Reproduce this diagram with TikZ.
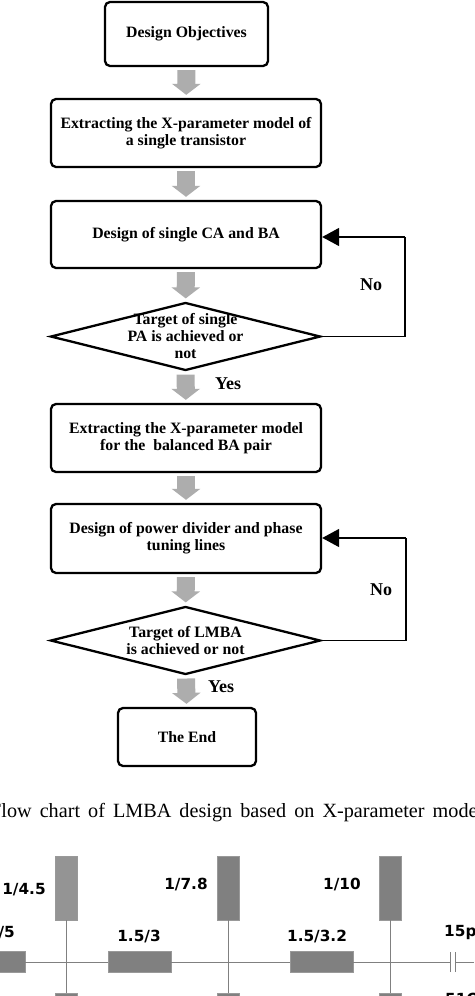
\documentclass[tikz,border=0pt]{standalone}
\usepackage{fontspec}
\setmainfont{Liberation Serif}
\newfontfamily\lblfont{DejaVu Sans}
\usetikzlibrary{arrows.meta,shapes.geometric}
\definecolor{shaftgray}{gray}{0.68}
\tikzset{
  x=1pt,y=-1pt,
  flowbox/.style={draw=black,line width=2.3pt,rounded corners=5pt,fill=white,inner sep=0pt,align=center,
     font=\bfseries\fontsize{15.8}{17}\selectfont},
  flowdia/.style={draw=black,line width=2.3pt,diamond,inner sep=0pt,aspect=3.97,minimum width=270pt,minimum height=68pt,fill=white},
  dialabel/.style={align=center,font=\bfseries\fontsize{15.8}{17}\selectfont},
  blockarrow/.style={draw=shaftgray,line width=18pt,shorten >=3pt,shorten <=3pt,
     -{Triangle[length=11pt,width=28pt]}},
  backline/.style={draw=black,line width=1.5pt},
  backhead/.style={draw=black,line width=1.5pt,-{Triangle[length=17pt,width=18pt]}},
  sidelabel/.style={font=\bfseries\fontsize{18}{20}\selectfont},
  stubrect/.style={fill=black!50,draw=black!40,line width=0.4pt,inner sep=0pt},
  wire/.style={draw=black!50,line width=0.7pt},
  dimlabel/.style={font=\lblfont\bfseries\fontsize{15.3}{18}\selectfont},
}
\begin{document}
\begin{tikzpicture}
\useasboundingbox (0,0) rectangle (474,996);
\clip (0,0) rectangle (474,996);
\fill[white] (0,0) rectangle (474,996);
% flow chart
\node[flowbox,minimum width=163pt,minimum height=64pt] (b1) at (186.5,34) {Design Objectives};
\node[flowbox,minimum width=270pt,minimum height=68pt] (b2) at (186,133) {Extracting the X-parameter model of\\a single transistor};
\node[flowbox,minimum width=270pt,minimum height=67pt] (b3) at (186,234.5) {Design of single CA and BA};
\node[flowdia,label={[dialabel]center:Target of single\\PA is achieved or\\not}] (d1) at (185.5,336.5) {};
\node[flowbox,minimum width=270pt,minimum height=68pt] (b4) at (186,438) {Extracting the X-parameter model\\for the\ \ balanced BA pair};
\node[flowbox,minimum width=270pt,minimum height=69pt] (b5) at (186,538.5) {Design of power divider and phase\\tuning lines};
\node[flowdia,label={[dialabel]center:Target of LMBA\\is achieved or not}] (d2) at (185.5,640.5) {};
\node[flowbox,minimum width=138pt,minimum height=58pt] (b6) at (187,737) {The End};
\draw[blockarrow] (b1) -- (b2);
\draw[blockarrow] (b2) -- (b3);
\draw[blockarrow] (b3) -- (d1);
\draw[blockarrow] (d1) -- (b4);
\draw[blockarrow] (b4) -- (b5);
\draw[blockarrow] (b5) -- (d2);
\draw[blockarrow] (d2) -- (b6);
% feedback
\coordinate (n1) at (405,237);
\coordinate (n2) at (406,538);
\draw[backline] (d1.east) -- (d1.east -| n1) -- (n1);
\draw[backhead] (n1) -- (b3.east |- n1);
\draw[backline] (d2.east) -- (d2.east -| n2) -- (n2);
\draw[backhead] (n2) -- (b5.east |- n2);
\node[sidelabel] (no1) at (371,285) {No};
\node[sidelabel] (no2) at (381,590) {No};
\node[sidelabel] (yes1) at (228,384) {Yes};
\node[sidelabel] (yes2) at (221,687) {Yes};
% caption
\node[anchor=base west,inner sep=0pt,font=\fontsize{20.2}{24}\selectfont] (cap) at (-10,817) {Flow\hspace{3pt} chart\hspace{3pt} of\hspace{3pt} LMBA\hspace{3pt} design\hspace{3pt} based\hspace{3pt} on\hspace{3pt} X-parameter\hspace{3pt} model};
% circuit
\node[stubrect,minimum width=22pt,minimum height=64pt,fill=black!42] (s1) at (66,888) {};
\node[stubrect,minimum width=22pt,minimum height=64pt] (s2) at (228,888) {};
\node[stubrect,minimum width=22pt,minimum height=64pt] (s3) at (390,888) {};
\node[stubrect,minimum width=22pt,minimum height=20pt] (u1) at (66,1003) {};
\node[stubrect,minimum width=22pt,minimum height=20pt] (u2) at (228,1003) {};
\node[stubrect,minimum width=22pt,minimum height=20pt] (u3) at (390,1003) {};
\node[stubrect,minimum width=35pt,minimum height=21pt] (l0) at (7.5,962) {};
\node[stubrect,minimum width=63pt,minimum height=21pt] (l1) at (139.5,962) {};
\node[stubrect,minimum width=63pt,minimum height=21pt] (l2) at (321.5,962) {};
\coordinate (c1) at (450.5,962);
\coordinate (c2) at (455,962);
\coordinate (e) at (474,962);
\draw[wire] (l0) -- (l1);
\draw[wire] (l1) -- (l2);
\draw[wire] (l2) -- (c1);
\draw[wire] (c2) -- (e);
\draw[wire] (s1) -- (u1);
\draw[wire] (s2) -- (u2);
\draw[wire] (s3) -- (u3);
\draw[wire] ([yshift=-10pt]c1) -- ([yshift=10pt]c1);
\draw[wire] ([yshift=-10pt]c2) -- ([yshift=10pt]c2);
\node[dimlabel] (t1) at (24,890) {1/4.5};
\node[dimlabel] (t2) at (186,885) {1/7.8};
\node[dimlabel] (t3) at (342,885) {1/10};
\node[dimlabel,anchor=base east,inner sep=0pt] (t4) at (15,937) {1/5};
\node[dimlabel] (t5) at (139,937) {1.5/3};
\node[dimlabel] (t6) at (317,937) {1.5/3.2};
\node[dimlabel,anchor=base west,inner sep=0pt] (t7) at (444,936) {15pF};
\node[dimlabel,anchor=base west,inner sep=0pt] (t8) at (445,1004.5) {51Ω};
\end{tikzpicture}
\end{document}
